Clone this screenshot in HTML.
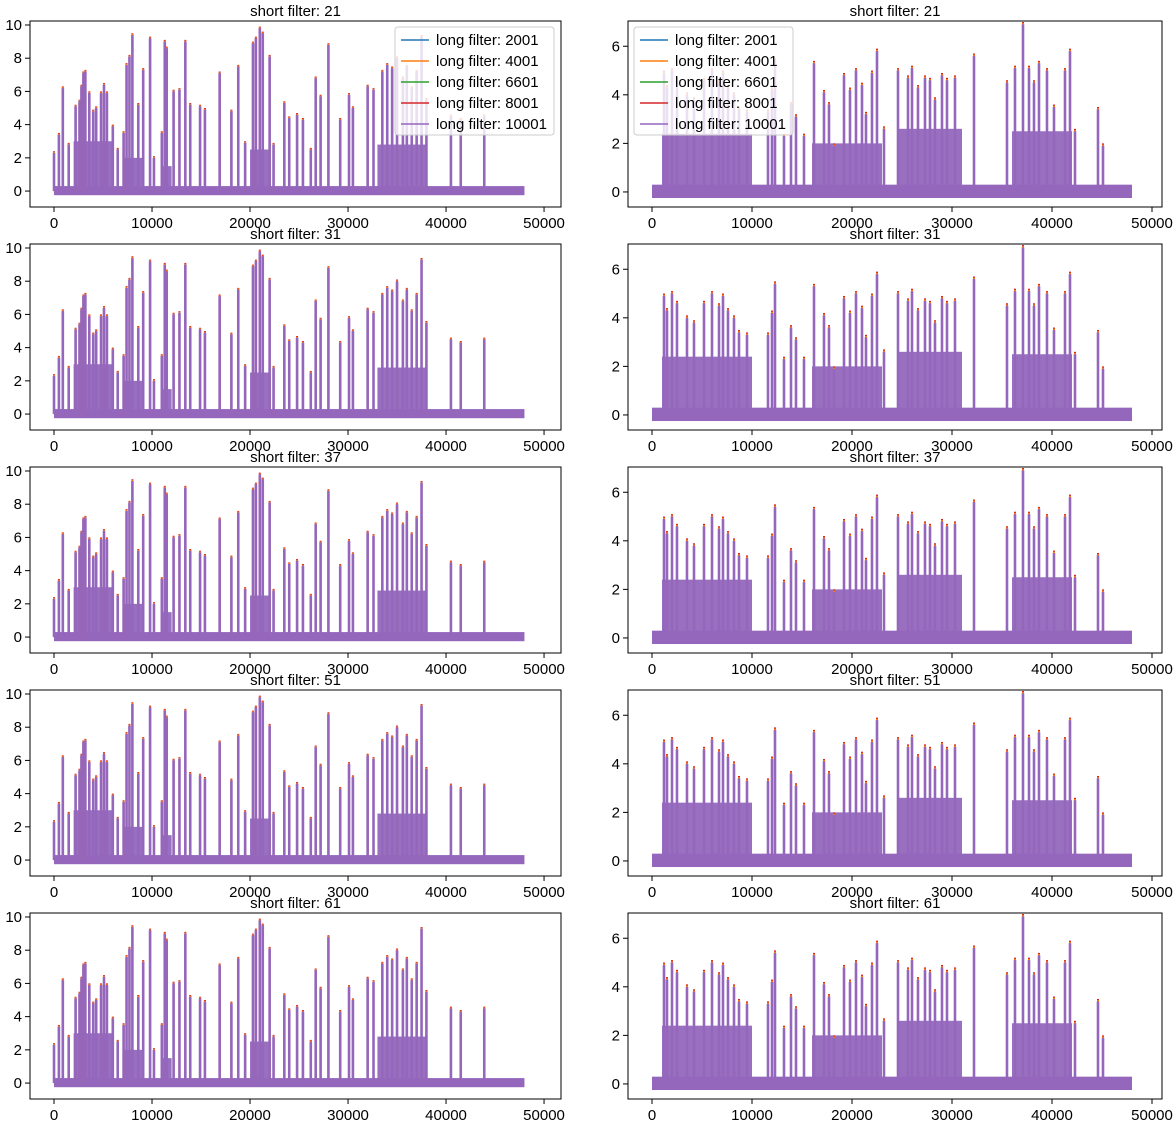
<!DOCTYPE html>
<html><head><meta charset="utf-8"><style>
body{margin:0;background:#fff;}
svg{display:block;font-family:"Liberation Sans","DejaVu Sans",sans-serif;}
</style></head><body>
<svg id="fig" width="1176" height="1125" viewBox="0 0 1176 1125" xmlns="http://www.w3.org/2000/svg"></svg>
<script>
const shortFilters = [21, 31, 37, 51, 61];
const longFilters = ["2001", "4001", "6601", "8001", "10001"];
const seriesColors = ["#1f77b4", "#ff7f0e", "#2ca02c", "#d62728", "#9467bd"];
const xTicks = [0, 10000, 20000, 30000, 40000, 50000];
const leftYTicks = [0, 2, 4, 6, 8, 10];
const rightYTicks = [0, 2, 4, 6];
const leftPeakX = [0,500,900,1500,2200,2600,2800,3000,3200,3600,4000,4300,4800,5100,5400,6000,6500,7100,7400,7700,8000,8600,9100,9800,10200,11000,11300,11500,12200,12800,13400,13900,14900,15400,16900,18100,18800,19500,20300,20600,21000,21300,22000,22400,23500,24000,24800,25400,26200,26700,27200,28000,29200,30100,30500,32000,32600,33500,34000,34500,35000,35600,36000,36500,37000,37500,38000,40500,41500,43900];
const leftPeakY = [2.3,3.4,6.2,2.8,5.1,5.4,6.3,7.1,7.2,5.9,4.8,5.0,5.9,6.4,5.9,3.9,2.5,3.5,7.6,8.1,9.4,5.2,7.3,9.2,2.0,3.5,9.0,8.6,6.0,6.1,9.0,5.2,5.1,4.9,7.1,4.8,7.5,2.9,8.9,9.2,9.8,9.5,8.1,2.8,5.3,4.4,4.6,4.3,2.5,6.8,5.7,8.8,4.3,5.8,5.0,6.3,6.1,7.2,7.6,7.4,8.0,6.8,7.5,6.2,7.2,9.3,5.5,4.5,4.3,4.5];
const leftDenseStart = [2000, 7000, 11000, 20000, 33000];
const leftDenseEnd = [6000, 9000, 12000, 22000, 38000];
const leftDenseY = [3.0, 2.0, 1.5, 2.5, 2.8];
const rightPeakX = [1200,1500,2000,2500,3500,4200,5200,6000,6700,7100,7600,8200,8700,9500,11600,12000,12300,13200,13900,14400,15200,16200,17200,17700,18200,19200,19800,20400,21000,21400,22000,22500,23200,24600,25600,26000,26600,27300,27800,28300,29000,29500,30300,32200,35500,36300,37100,37700,38200,38700,39500,40200,41300,41800,42300,44600,45100];
const rightPeakY = [4.9,4.3,5.0,4.6,4.0,3.8,4.6,5.0,4.5,4.9,4.3,4.0,3.4,3.3,3.3,4.2,5.4,2.3,3.6,3.1,2.3,5.3,4.1,3.6,1.9,4.8,4.2,5.0,4.4,3.2,4.9,5.8,2.6,5.0,4.7,5.1,4.3,4.7,4.6,3.8,4.8,4.6,4.7,5.6,4.5,5.1,6.9,5.1,4.5,5.3,5.0,3.5,5.0,5.8,2.5,3.4,1.9];
const rightDenseStart = [1000, 16000, 24500, 36000];
const rightDenseEnd = [10000, 23000, 31000, 42000];
const rightDenseY = [2.4, 2.0, 2.6, 2.5];
const xMax = 48000;

const NS = "http://www.w3.org/2000/svg";
const svg = document.getElementById("fig");
function mk(tag, attrs, parent){const e=document.createElementNS(NS,tag);for(const k in attrs)e.setAttribute(k,attrs[k]);(parent||svg).appendChild(e);return e;}

const panels = [
 {side:"left", x0:30, x1:561, xmin:-2450, xmax:51730, ymin:-0.96, ymax:10.24, yt:leftYTicks, px:leftPeakX, py:leftPeakY, ds:leftDenseStart, de:leftDenseEnd, dy:leftDenseY},
 {side:"right", x0:628, x1:1162, xmin:-2400, xmax:51000, ymin:-0.62, ymax:7.04, yt:rightYTicks, px:rightPeakX, py:rightPeakY, ds:rightDenseStart, de:rightDenseEnd, dy:rightDenseY}
];

shortFilters.forEach((sf, r) => {
  const top = 21 + r*223, bot = top + 186;
  panels.forEach(p => {
    const g = mk("g", {});
    
    
    const X = v => p.x0 + (v - p.xmin)/(p.xmax - p.xmin)*(p.x1 - p.x0);
    const Y = v => bot - (v - p.ymin)/(p.ymax - p.ymin)*(bot - top);
    p.ds.forEach((s,i) => {
      const rc = mk("rect", {x:X(s), y:Y(p.dy[i]), width:X(p.de[i])-X(s), height:Y(0)-Y(p.dy[i]), fill:"#9467bd", opacity:0.95}, g);
      
      
    });
    const band = mk("rect", {x:X(0), y:Y(0.3), width:X(xMax)-X(0), height:Y(-0.25)-Y(0.3), fill:"#9467bd"}, g);
    
    
    p.px.forEach((x,i) => {
      [3,1,4].forEach((ci,k) => {
        const off = k===2 ? 0 : 0.1;
        const ln = mk("line", {x1:X(x), x2:X(x), y1:Y(0), y2:Y(p.py[i] + off*(k===0?1:0.5)), stroke:seriesColors[ci], "stroke-width":k===2?2.6:2}, g);
        
        
      });
    });
    const fr = mk("rect", {x:p.x0, y:top, width:p.x1-p.x0, height:bot-top, fill:"none", stroke:"#000", "stroke-width":1}, g);
    
    
    xTicks.forEach(t => {
      mk("line", {x1:X(t), x2:X(t), y1:bot, y2:bot+5, stroke:"#000"}, g);
      const tx = mk("text", {x:X(t), y:bot+21, "text-anchor":"middle", "font-size":15, fill:"#000"}, g);
      tx.textContent = t;
      
      
    });
    p.yt.forEach(t => {
      mk("line", {x1:p.x0-5, x2:p.x0, y1:Y(t), y2:Y(t), stroke:"#000"}, g);
      const tx = mk("text", {x:p.x0-8, y:Y(t)+5, "text-anchor":"end", "font-size":15, fill:"#000"}, g);
      tx.textContent = t;
      
      
    });
    const ti = mk("text", {x:(p.x0+p.x1)/2, y:top-5, "text-anchor":"middle", "font-size":15, fill:"#000"}, g);
    ti.textContent = "short filter: " + sf;
    
    
    if (r === 0) {
      const lx = p.side === "left" ? 395 : 634;
      const lg = mk("g", {}, g);
      
      
      mk("rect", {x:lx, y:27, width:159, height:108, rx:3, fill:"#fff", "fill-opacity":0.8, stroke:"#ccc"}, lg);
      longFilters.forEach((lf, i) => {
        const yy = 40 + i*21;
        const e = mk("g", {}, lg);
        
        
        mk("line", {x1:lx+6, x2:lx+34, y1:yy, y2:yy, stroke:seriesColors[i], "stroke-width":1.5}, e);
        const t = mk("text", {x:lx+41, y:yy+5, "font-size":15, fill:"#000"}, e);
        t.textContent = "long filter: " + lf;
      });
    }
  });
});
</script>
</body></html>
